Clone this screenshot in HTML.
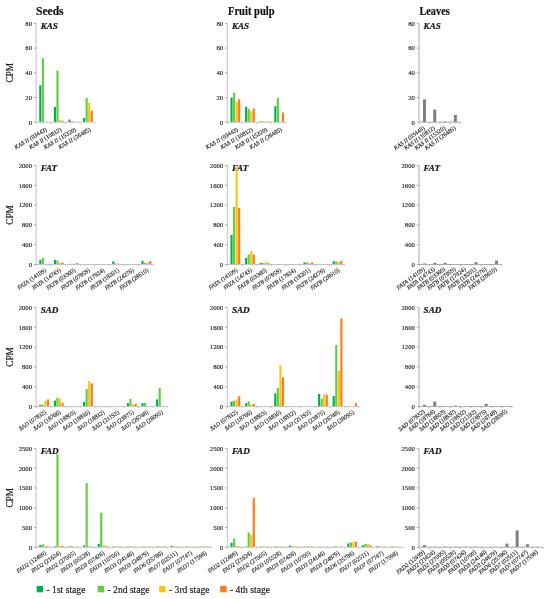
<!DOCTYPE html>
<html lang="en"><head><meta charset="utf-8"><title>CPM expression of KAS, FAT, SAD and FAD genes</title>
<style>html,body{margin:0;padding:0;background:#fff}body{width:550px;height:599px;overflow:hidden}svg{display:block;filter:blur(.3px)}text{stroke:#222;stroke-width:.2px;stroke-linejoin:round}text.c{stroke-width:.14px;fill:#222}text.t{stroke-width:.14px}</style></head>
<body>
<svg width="550" height="599" viewBox="0 0 550 599" font-family="'Liberation Serif', serif" fill="#222">
<rect width="550" height="599" fill="#fff"/>
<text x="36" y="15.2" font-size="11.6" font-weight="bold" fill="#111" textLength="27.6" lengthAdjust="spacingAndGlyphs">Seeds</text>
<text x="228" y="15.2" font-size="11.6" font-weight="bold" fill="#111" textLength="46.6" lengthAdjust="spacingAndGlyphs">Fruit pulp</text>
<text x="419.4" y="15.2" font-size="11.6" font-weight="bold" fill="#111" textLength="30.4" lengthAdjust="spacingAndGlyphs">Leaves</text>
<text transform="translate(13.4 72.8) rotate(-90)" text-anchor="middle" font-size="9.3">CPM</text>
<g><text x="40.7" y="29.1" font-size="9.1" font-weight="bold" font-style="italic" fill="#111">KAS</text><rect x="39.25" y="85.40" width="2.15" height="36.80" fill="#00b050"/><rect x="41.80" y="58.20" width="2.15" height="64.00" fill="#5fcf3a"/><rect x="53.85" y="107.00" width="2.15" height="15.20" fill="#00b050"/><rect x="56.40" y="70.60" width="2.15" height="51.60" fill="#5fcf3a"/><rect x="58.95" y="120.20" width="2.15" height="2.00" fill="#ffc20e"/><rect x="61.50" y="120.60" width="2.15" height="1.60" fill="#ff7a1a"/><rect x="68.45" y="119.60" width="2.15" height="2.60" fill="#00b050"/><rect x="71.00" y="121.35" width="2.15" height="0.85" fill="#5fcf3a"/><rect x="83.05" y="118.00" width="2.15" height="4.20" fill="#00b050"/><rect x="85.60" y="98.00" width="2.15" height="24.20" fill="#5fcf3a"/><rect x="88.15" y="103.00" width="2.15" height="19.20" fill="#ffc20e"/><rect x="90.70" y="110.60" width="2.15" height="11.60" fill="#ff7a1a"/><text x="32.0" y="124.5" text-anchor="end" font-size="6.7" class="t">0</text><text x="32.0" y="99.8" text-anchor="end" font-size="6.7" class="t">20</text><text x="32.0" y="75.1" text-anchor="end" font-size="6.7" class="t">40</text><text x="32.0" y="50.4" text-anchor="end" font-size="6.7" class="t">60</text><text x="32.0" y="25.7" text-anchor="end" font-size="6.7" class="t">80</text><path d="M36.10 23.40V122.20H94.80M36.40 122.20v1.6M51.00 122.20v1.6M65.60 122.20v1.6M80.20 122.20v1.6M94.80 122.20v1.6" fill="none" stroke="#c2c2c2" stroke-width="1"/><path d="M33.80 122.20H36.10M33.80 97.50H36.10M33.80 72.80H36.10M33.80 48.10H36.10M33.80 23.40H36.10" fill="none" stroke="#8c8c8c" stroke-width="0.7"/><text transform="translate(47.3 130.6) rotate(-31)" text-anchor="end" font-size="6" class="c"><tspan font-style="italic">KAS II</tspan> (03443)</text><text transform="translate(61.9 130.6) rotate(-31)" text-anchor="end" font-size="6" class="c"><tspan font-style="italic">KAS II</tspan> (10812)</text><text transform="translate(76.5 130.6) rotate(-31)" text-anchor="end" font-size="6" class="c"><tspan font-style="italic">KAS II</tspan> (15320)</text><text transform="translate(91.1 130.6) rotate(-31)" text-anchor="end" font-size="6" class="c"><tspan font-style="italic">KAS II</tspan> (26485)</text></g>
<g><text x="231.9" y="29.1" font-size="9.1" font-weight="bold" font-style="italic" fill="#111">KAS</text><rect x="230.45" y="97.60" width="2.15" height="24.60" fill="#00b050"/><rect x="233.00" y="92.80" width="2.15" height="29.40" fill="#5fcf3a"/><rect x="235.55" y="101.60" width="2.15" height="20.60" fill="#ffc20e"/><rect x="238.10" y="99.20" width="2.15" height="23.00" fill="#ff7a1a"/><rect x="245.05" y="106.80" width="2.15" height="15.40" fill="#00b050"/><rect x="247.60" y="109.00" width="2.15" height="13.20" fill="#5fcf3a"/><rect x="250.15" y="111.00" width="2.15" height="11.20" fill="#ffc20e"/><rect x="252.70" y="108.60" width="2.15" height="13.60" fill="#ff7a1a"/><rect x="259.65" y="121.55" width="2.15" height="0.65" fill="#00b050"/><rect x="262.20" y="121.55" width="2.15" height="0.65" fill="#5fcf3a"/><rect x="264.75" y="121.65" width="2.15" height="0.55" fill="#ffc20e"/><rect x="267.30" y="121.65" width="2.15" height="0.55" fill="#ff7a1a"/><rect x="274.25" y="106.20" width="2.15" height="16.00" fill="#00b050"/><rect x="276.80" y="98.00" width="2.15" height="24.20" fill="#5fcf3a"/><rect x="281.90" y="112.40" width="2.15" height="9.80" fill="#ff7a1a"/><text x="223.2" y="124.5" text-anchor="end" font-size="6.7" class="t">0</text><text x="223.2" y="99.8" text-anchor="end" font-size="6.7" class="t">20</text><text x="223.2" y="75.1" text-anchor="end" font-size="6.7" class="t">40</text><text x="223.2" y="50.4" text-anchor="end" font-size="6.7" class="t">60</text><text x="223.2" y="25.7" text-anchor="end" font-size="6.7" class="t">80</text><path d="M227.30 23.40V122.20H286.00M227.60 122.20v1.6M242.20 122.20v1.6M256.80 122.20v1.6M271.40 122.20v1.6M286.00 122.20v1.6" fill="none" stroke="#c2c2c2" stroke-width="1"/><path d="M225.00 122.20H227.30M225.00 97.50H227.30M225.00 72.80H227.30M225.00 48.10H227.30M225.00 23.40H227.30" fill="none" stroke="#8c8c8c" stroke-width="0.7"/><text transform="translate(238.5 130.6) rotate(-31)" text-anchor="end" font-size="6" class="c"><tspan font-style="italic">KAS II</tspan> (03443)</text><text transform="translate(253.1 130.6) rotate(-31)" text-anchor="end" font-size="6" class="c"><tspan font-style="italic">KAS II</tspan> (10812)</text><text transform="translate(267.7 130.6) rotate(-31)" text-anchor="end" font-size="6" class="c"><tspan font-style="italic">KAS II</tspan> (15320)</text><text transform="translate(282.3 130.6) rotate(-31)" text-anchor="end" font-size="6" class="c"><tspan font-style="italic">KAS II</tspan> (26485)</text></g>
<g><text x="423.6" y="29.1" font-size="9.1" font-weight="bold" font-style="italic" fill="#111">KAS</text><rect x="422.95" y="99.40" width="3" height="22.80" fill="#7f7f7f"/><rect x="433.25" y="109.60" width="3" height="12.60" fill="#7f7f7f"/><rect x="443.55" y="121.40" width="3" height="0.80" fill="#7f7f7f"/><rect x="453.85" y="115.00" width="3" height="7.20" fill="#7f7f7f"/><text x="414.9" y="124.5" text-anchor="end" font-size="6.7" class="t">0</text><text x="414.9" y="99.8" text-anchor="end" font-size="6.7" class="t">20</text><text x="414.9" y="75.1" text-anchor="end" font-size="6.7" class="t">40</text><text x="414.9" y="50.4" text-anchor="end" font-size="6.7" class="t">60</text><text x="414.9" y="25.7" text-anchor="end" font-size="6.7" class="t">80</text><path d="M419.00 23.40V122.20H460.50M419.30 122.20v1.6M429.60 122.20v1.6M439.90 122.20v1.6M450.20 122.20v1.6M460.50 122.20v1.6" fill="none" stroke="#ababab" stroke-width="1"/><path d="M416.70 122.20H419.00M416.70 97.50H419.00M416.70 72.80H419.00M416.70 48.10H419.00M416.70 23.40H419.00" fill="none" stroke="#8c8c8c" stroke-width="0.7"/><text transform="translate(425.1 128.8) rotate(-36)" text-anchor="end" font-size="6" class="c"><tspan font-style="italic">KAS II</tspan> (03443)</text><text transform="translate(435.4 128.8) rotate(-36)" text-anchor="end" font-size="6" class="c"><tspan font-style="italic">KAS II</tspan> (10812)</text><text transform="translate(445.8 128.8) rotate(-36)" text-anchor="end" font-size="6" class="c"><tspan font-style="italic">KAS II</tspan> (15320)</text><text transform="translate(456.1 128.8) rotate(-36)" text-anchor="end" font-size="6" class="c"><tspan font-style="italic">KAS II</tspan> (26485)</text></g>
<text transform="translate(13.4 215.0) rotate(-90)" text-anchor="middle" font-size="9.3">CPM</text>
<g><text x="40.7" y="171.2" font-size="9.1" font-weight="bold" font-style="italic" fill="#111">FAT</text><rect x="39.25" y="260.00" width="2.15" height="4.50" fill="#00b050"/><rect x="41.80" y="258.00" width="2.15" height="6.50" fill="#5fcf3a"/><rect x="44.35" y="263.85" width="2.15" height="0.65" fill="#ffc20e"/><rect x="46.90" y="263.85" width="2.15" height="0.65" fill="#ff7a1a"/><rect x="53.85" y="259.80" width="2.15" height="4.70" fill="#00b050"/><rect x="56.40" y="260.60" width="2.15" height="3.90" fill="#5fcf3a"/><rect x="58.95" y="262.80" width="2.15" height="1.70" fill="#ffc20e"/><rect x="61.50" y="262.60" width="2.15" height="1.90" fill="#ff7a1a"/><rect x="68.45" y="263.85" width="2.15" height="0.65" fill="#00b050"/><rect x="71.00" y="263.85" width="2.15" height="0.65" fill="#5fcf3a"/><rect x="73.55" y="263.65" width="2.15" height="0.85" fill="#ffc20e"/><rect x="76.10" y="263.00" width="2.15" height="1.50" fill="#ff7a1a"/><rect x="83.05" y="264.05" width="2.15" height="0.45" fill="#00b050"/><rect x="85.60" y="264.05" width="2.15" height="0.45" fill="#5fcf3a"/><rect x="88.15" y="264.05" width="2.15" height="0.45" fill="#ffc20e"/><rect x="90.70" y="264.05" width="2.15" height="0.45" fill="#ff7a1a"/><rect x="97.65" y="264.05" width="2.15" height="0.45" fill="#00b050"/><rect x="100.20" y="264.05" width="2.15" height="0.45" fill="#5fcf3a"/><rect x="102.75" y="264.05" width="2.15" height="0.45" fill="#ffc20e"/><rect x="105.30" y="264.05" width="2.15" height="0.45" fill="#ff7a1a"/><rect x="112.25" y="261.40" width="2.15" height="3.10" fill="#00b050"/><rect x="114.80" y="263.45" width="2.15" height="1.05" fill="#5fcf3a"/><rect x="117.35" y="263.45" width="2.15" height="1.05" fill="#ffc20e"/><rect x="119.90" y="263.95" width="2.15" height="0.55" fill="#ff7a1a"/><rect x="126.85" y="264.05" width="2.15" height="0.45" fill="#00b050"/><rect x="129.40" y="264.05" width="2.15" height="0.45" fill="#5fcf3a"/><rect x="131.95" y="264.05" width="2.15" height="0.45" fill="#ffc20e"/><rect x="134.50" y="264.05" width="2.15" height="0.45" fill="#ff7a1a"/><rect x="141.45" y="261.00" width="2.15" height="3.50" fill="#00b050"/><rect x="144.00" y="263.00" width="2.15" height="1.50" fill="#5fcf3a"/><rect x="146.55" y="262.40" width="2.15" height="2.10" fill="#ffc20e"/><rect x="149.10" y="261.00" width="2.15" height="3.50" fill="#ff7a1a"/><text x="32.0" y="266.8" text-anchor="end" font-size="6.7" class="t">0</text><text x="32.0" y="247.0" text-anchor="end" font-size="6.7" class="t">400</text><text x="32.0" y="227.2" text-anchor="end" font-size="6.7" class="t">800</text><text x="32.0" y="207.4" text-anchor="end" font-size="6.7" class="t">1200</text><text x="32.0" y="187.6" text-anchor="end" font-size="6.7" class="t">1600</text><text x="32.0" y="167.8" text-anchor="end" font-size="6.7" class="t">2000</text><path d="M36.10 165.50V264.50H153.20M36.40 264.50v1.6M51.00 264.50v1.6M65.60 264.50v1.6M80.20 264.50v1.6M94.80 264.50v1.6M109.40 264.50v1.6M124.00 264.50v1.6M138.60 264.50v1.6M153.20 264.50v1.6" fill="none" stroke="#c2c2c2" stroke-width="1"/><path d="M33.80 264.50H36.10M33.80 244.70H36.10M33.80 224.90H36.10M33.80 205.10H36.10M33.80 185.30H36.10M33.80 165.50H36.10" fill="none" stroke="#8c8c8c" stroke-width="0.7"/><text transform="translate(46.6 271.1) rotate(-34.5)" text-anchor="end" font-size="6" class="c"><tspan font-style="italic">FATA</tspan> (14109)</text><text transform="translate(61.2 271.1) rotate(-34.5)" text-anchor="end" font-size="6" class="c"><tspan font-style="italic">FATA</tspan> (14743)</text><text transform="translate(75.8 271.1) rotate(-34.5)" text-anchor="end" font-size="6" class="c"><tspan font-style="italic">FATB</tspan> (03360)</text><text transform="translate(90.4 271.1) rotate(-34.5)" text-anchor="end" font-size="6" class="c"><tspan font-style="italic">FATB</tspan> (07959)</text><text transform="translate(105.0 271.1) rotate(-34.5)" text-anchor="end" font-size="6" class="c"><tspan font-style="italic">FATB</tspan> (17924)</text><text transform="translate(119.6 271.1) rotate(-34.5)" text-anchor="end" font-size="6" class="c"><tspan font-style="italic">FATB</tspan> (18201)</text><text transform="translate(134.2 271.1) rotate(-34.5)" text-anchor="end" font-size="6" class="c"><tspan font-style="italic">FATB</tspan> (24276)</text><text transform="translate(148.8 271.1) rotate(-34.5)" text-anchor="end" font-size="6" class="c"><tspan font-style="italic">FATB</tspan> (28610)</text></g>
<g><text x="231.9" y="171.2" font-size="9.1" font-weight="bold" font-style="italic" fill="#111">FAT</text><rect x="230.45" y="235.00" width="2.15" height="29.50" fill="#00b050"/><rect x="233.00" y="207.00" width="2.15" height="57.50" fill="#5fcf3a"/><rect x="235.55" y="167.00" width="2.15" height="97.50" fill="#ffc20e"/><rect x="238.10" y="208.00" width="2.15" height="56.50" fill="#ff7a1a"/><rect x="245.05" y="258.00" width="2.15" height="6.50" fill="#00b050"/><rect x="247.60" y="254.40" width="2.15" height="10.10" fill="#5fcf3a"/><rect x="250.15" y="251.00" width="2.15" height="13.50" fill="#ffc20e"/><rect x="252.70" y="254.60" width="2.15" height="9.90" fill="#ff7a1a"/><rect x="259.65" y="263.00" width="2.15" height="1.50" fill="#00b050"/><rect x="262.20" y="263.00" width="2.15" height="1.50" fill="#5fcf3a"/><rect x="264.75" y="262.00" width="2.15" height="2.50" fill="#ffc20e"/><rect x="267.30" y="263.00" width="2.15" height="1.50" fill="#ff7a1a"/><rect x="274.25" y="263.95" width="2.15" height="0.55" fill="#00b050"/><rect x="276.80" y="263.95" width="2.15" height="0.55" fill="#5fcf3a"/><rect x="279.35" y="263.95" width="2.15" height="0.55" fill="#ffc20e"/><rect x="281.90" y="263.95" width="2.15" height="0.55" fill="#ff7a1a"/><rect x="288.85" y="263.95" width="2.15" height="0.55" fill="#00b050"/><rect x="291.40" y="263.95" width="2.15" height="0.55" fill="#5fcf3a"/><rect x="293.95" y="263.95" width="2.15" height="0.55" fill="#ffc20e"/><rect x="296.50" y="263.95" width="2.15" height="0.55" fill="#ff7a1a"/><rect x="303.45" y="262.40" width="2.15" height="2.10" fill="#00b050"/><rect x="306.00" y="262.40" width="2.15" height="2.10" fill="#5fcf3a"/><rect x="308.55" y="263.00" width="2.15" height="1.50" fill="#ffc20e"/><rect x="311.10" y="262.40" width="2.15" height="2.10" fill="#ff7a1a"/><rect x="318.05" y="263.95" width="2.15" height="0.55" fill="#00b050"/><rect x="320.60" y="263.95" width="2.15" height="0.55" fill="#5fcf3a"/><rect x="323.15" y="263.95" width="2.15" height="0.55" fill="#ffc20e"/><rect x="325.70" y="263.95" width="2.15" height="0.55" fill="#ff7a1a"/><rect x="332.65" y="261.20" width="2.15" height="3.30" fill="#00b050"/><rect x="335.20" y="261.60" width="2.15" height="2.90" fill="#5fcf3a"/><rect x="337.75" y="262.00" width="2.15" height="2.50" fill="#ffc20e"/><rect x="340.30" y="261.00" width="2.15" height="3.50" fill="#ff7a1a"/><text x="223.2" y="266.8" text-anchor="end" font-size="6.7" class="t">0</text><text x="223.2" y="247.0" text-anchor="end" font-size="6.7" class="t">400</text><text x="223.2" y="227.2" text-anchor="end" font-size="6.7" class="t">800</text><text x="223.2" y="207.4" text-anchor="end" font-size="6.7" class="t">1200</text><text x="223.2" y="187.6" text-anchor="end" font-size="6.7" class="t">1600</text><text x="223.2" y="167.8" text-anchor="end" font-size="6.7" class="t">2000</text><path d="M227.30 165.50V264.50H344.40M227.60 264.50v1.6M242.20 264.50v1.6M256.80 264.50v1.6M271.40 264.50v1.6M286.00 264.50v1.6M300.60 264.50v1.6M315.20 264.50v1.6M329.80 264.50v1.6M344.40 264.50v1.6" fill="none" stroke="#c2c2c2" stroke-width="1"/><path d="M225.00 264.50H227.30M225.00 244.70H227.30M225.00 224.90H227.30M225.00 205.10H227.30M225.00 185.30H227.30M225.00 165.50H227.30" fill="none" stroke="#8c8c8c" stroke-width="0.7"/><text transform="translate(237.8 271.1) rotate(-34.5)" text-anchor="end" font-size="6" class="c"><tspan font-style="italic">FATA</tspan> (14109)</text><text transform="translate(252.4 271.1) rotate(-34.5)" text-anchor="end" font-size="6" class="c"><tspan font-style="italic">FATA</tspan> (14743)</text><text transform="translate(267.0 271.1) rotate(-34.5)" text-anchor="end" font-size="6" class="c"><tspan font-style="italic">FATB</tspan> (03360)</text><text transform="translate(281.6 271.1) rotate(-34.5)" text-anchor="end" font-size="6" class="c"><tspan font-style="italic">FATB</tspan> (07959)</text><text transform="translate(296.2 271.1) rotate(-34.5)" text-anchor="end" font-size="6" class="c"><tspan font-style="italic">FATB</tspan> (17924)</text><text transform="translate(310.8 271.1) rotate(-34.5)" text-anchor="end" font-size="6" class="c"><tspan font-style="italic">FATB</tspan> (18201)</text><text transform="translate(325.4 271.1) rotate(-34.5)" text-anchor="end" font-size="6" class="c"><tspan font-style="italic">FATB</tspan> (24276)</text><text transform="translate(340.0 271.1) rotate(-34.5)" text-anchor="end" font-size="6" class="c"><tspan font-style="italic">FATB</tspan> (28610)</text></g>
<g><text x="423.6" y="171.2" font-size="9.1" font-weight="bold" font-style="italic" fill="#111">FAT</text><rect x="422.95" y="263.50" width="3" height="1.00" fill="#7f7f7f"/><rect x="433.25" y="262.80" width="3" height="1.70" fill="#7f7f7f"/><rect x="443.55" y="262.80" width="3" height="1.70" fill="#7f7f7f"/><rect x="453.85" y="264.10" width="3" height="0.40" fill="#7f7f7f"/><rect x="464.15" y="264.10" width="3" height="0.40" fill="#7f7f7f"/><rect x="474.45" y="262.20" width="3" height="2.30" fill="#7f7f7f"/><rect x="495.05" y="260.60" width="3" height="3.90" fill="#7f7f7f"/><text x="414.9" y="266.8" text-anchor="end" font-size="6.7" class="t">0</text><text x="414.9" y="247.0" text-anchor="end" font-size="6.7" class="t">400</text><text x="414.9" y="227.2" text-anchor="end" font-size="6.7" class="t">800</text><text x="414.9" y="207.4" text-anchor="end" font-size="6.7" class="t">1200</text><text x="414.9" y="187.6" text-anchor="end" font-size="6.7" class="t">1600</text><text x="414.9" y="167.8" text-anchor="end" font-size="6.7" class="t">2000</text><path d="M419.00 165.50V264.50H501.70M419.30 264.50v1.6M429.60 264.50v1.6M439.90 264.50v1.6M450.20 264.50v1.6M460.50 264.50v1.6M470.80 264.50v1.6M481.10 264.50v1.6M491.40 264.50v1.6M501.70 264.50v1.6" fill="none" stroke="#ababab" stroke-width="1"/><path d="M416.70 264.50H419.00M416.70 244.70H419.00M416.70 224.90H419.00M416.70 205.10H419.00M416.70 185.30H419.00M416.70 165.50H419.00" fill="none" stroke="#8c8c8c" stroke-width="0.7"/><text transform="translate(425.1 269.9) rotate(-37)" text-anchor="end" font-size="6" class="c"><tspan font-style="italic">FATA</tspan> (14109)</text><text transform="translate(435.4 269.9) rotate(-37)" text-anchor="end" font-size="6" class="c"><tspan font-style="italic">FATA</tspan> (14743)</text><text transform="translate(445.7 269.9) rotate(-37)" text-anchor="end" font-size="6" class="c"><tspan font-style="italic">FATB</tspan> (03360)</text><text transform="translate(456.0 269.9) rotate(-37)" text-anchor="end" font-size="6" class="c"><tspan font-style="italic">FATB</tspan> (07959)</text><text transform="translate(466.3 269.9) rotate(-37)" text-anchor="end" font-size="6" class="c"><tspan font-style="italic">FATB</tspan> (17924)</text><text transform="translate(476.6 269.9) rotate(-37)" text-anchor="end" font-size="6" class="c"><tspan font-style="italic">FATB</tspan> (18201)</text><text transform="translate(486.9 269.9) rotate(-37)" text-anchor="end" font-size="6" class="c"><tspan font-style="italic">FATB</tspan> (24276)</text><text transform="translate(497.2 269.9) rotate(-37)" text-anchor="end" font-size="6" class="c"><tspan font-style="italic">FATB</tspan> (28610)</text></g>
<text transform="translate(13.4 357.0) rotate(-90)" text-anchor="middle" font-size="9.3">CPM</text>
<g><text x="40.7" y="313.1" font-size="9.1" font-weight="bold" font-style="italic" fill="#111">SAD</text><rect x="39.25" y="404.80" width="2.15" height="1.80" fill="#00b050"/><rect x="41.80" y="404.80" width="2.15" height="1.80" fill="#5fcf3a"/><rect x="44.35" y="401.00" width="2.15" height="5.60" fill="#ffc20e"/><rect x="46.90" y="399.40" width="2.15" height="7.20" fill="#ff7a1a"/><rect x="53.85" y="400.60" width="2.15" height="6.00" fill="#00b050"/><rect x="56.40" y="397.80" width="2.15" height="8.80" fill="#5fcf3a"/><rect x="58.95" y="398.80" width="2.15" height="7.80" fill="#ffc20e"/><rect x="61.50" y="402.80" width="2.15" height="3.80" fill="#ff7a1a"/><rect x="68.45" y="406.05" width="2.15" height="0.55" fill="#00b050"/><rect x="71.00" y="406.15" width="2.15" height="0.45" fill="#5fcf3a"/><rect x="73.55" y="406.15" width="2.15" height="0.45" fill="#ffc20e"/><rect x="76.10" y="406.15" width="2.15" height="0.45" fill="#ff7a1a"/><rect x="83.05" y="401.80" width="2.15" height="4.80" fill="#00b050"/><rect x="85.60" y="389.00" width="2.15" height="17.60" fill="#5fcf3a"/><rect x="88.15" y="381.00" width="2.15" height="25.60" fill="#ffc20e"/><rect x="90.70" y="383.40" width="2.15" height="23.20" fill="#ff7a1a"/><rect x="97.65" y="406.05" width="2.15" height="0.55" fill="#00b050"/><rect x="100.20" y="406.05" width="2.15" height="0.55" fill="#5fcf3a"/><rect x="102.75" y="405.95" width="2.15" height="0.65" fill="#ffc20e"/><rect x="105.30" y="405.95" width="2.15" height="0.65" fill="#ff7a1a"/><rect x="126.85" y="403.20" width="2.15" height="3.40" fill="#00b050"/><rect x="129.40" y="398.80" width="2.15" height="7.80" fill="#5fcf3a"/><rect x="131.95" y="404.40" width="2.15" height="2.20" fill="#ffc20e"/><rect x="134.50" y="403.80" width="2.15" height="2.80" fill="#ff7a1a"/><rect x="141.45" y="403.20" width="2.15" height="3.40" fill="#00b050"/><rect x="144.00" y="402.80" width="2.15" height="3.80" fill="#5fcf3a"/><rect x="146.55" y="406.05" width="2.15" height="0.55" fill="#ffc20e"/><rect x="149.10" y="406.05" width="2.15" height="0.55" fill="#ff7a1a"/><rect x="156.05" y="399.40" width="2.15" height="7.20" fill="#00b050"/><rect x="158.60" y="388.00" width="2.15" height="18.60" fill="#5fcf3a"/><rect x="163.70" y="405.95" width="2.15" height="0.65" fill="#ff7a1a"/><text x="32.0" y="408.9" text-anchor="end" font-size="6.7" class="t">0</text><text x="32.0" y="389.1" text-anchor="end" font-size="6.7" class="t">400</text><text x="32.0" y="369.2" text-anchor="end" font-size="6.7" class="t">800</text><text x="32.0" y="349.4" text-anchor="end" font-size="6.7" class="t">1200</text><text x="32.0" y="329.5" text-anchor="end" font-size="6.7" class="t">1600</text><text x="32.0" y="309.7" text-anchor="end" font-size="6.7" class="t">2000</text><path d="M36.10 307.40V406.60H167.80M36.40 406.60v1.6M51.00 406.60v1.6M65.60 406.60v1.6M80.20 406.60v1.6M94.80 406.60v1.6M109.40 406.60v1.6M124.00 406.60v1.6M138.60 406.60v1.6M153.20 406.60v1.6M167.80 406.60v1.6" fill="none" stroke="#c2c2c2" stroke-width="1"/><path d="M33.80 406.60H36.10M33.80 386.76H36.10M33.80 366.92H36.10M33.80 347.08H36.10M33.80 327.24H36.10M33.80 307.40H36.10" fill="none" stroke="#8c8c8c" stroke-width="0.7"/><text transform="translate(46.6 413.2) rotate(-34)" text-anchor="end" font-size="6" class="c"><tspan font-style="italic">SAD</tspan> (07832)</text><text transform="translate(61.2 413.2) rotate(-34)" text-anchor="end" font-size="6" class="c"><tspan font-style="italic">SAD</tspan> (18766)</text><text transform="translate(75.8 413.2) rotate(-34)" text-anchor="end" font-size="6" class="c"><tspan font-style="italic">SAD</tspan> (18803)</text><text transform="translate(90.4 413.2) rotate(-34)" text-anchor="end" font-size="6" class="c"><tspan font-style="italic">SAD</tspan> (18830)</text><text transform="translate(105.0 413.2) rotate(-34)" text-anchor="end" font-size="6" class="c"><tspan font-style="italic">SAD</tspan> (18832)</text><text transform="translate(119.6 413.2) rotate(-34)" text-anchor="end" font-size="6" class="c"><tspan font-style="italic">SAD</tspan> (21192)</text><text transform="translate(134.2 413.2) rotate(-34)" text-anchor="end" font-size="6" class="c"><tspan font-style="italic">SAD</tspan> (23875)</text><text transform="translate(148.8 413.2) rotate(-34)" text-anchor="end" font-size="6" class="c"><tspan font-style="italic">SAD</tspan> (26748)</text><text transform="translate(163.4 413.2) rotate(-34)" text-anchor="end" font-size="6" class="c"><tspan font-style="italic">SAD</tspan> (28095)</text></g>
<g><text x="231.9" y="313.1" font-size="9.1" font-weight="bold" font-style="italic" fill="#111">SAD</text><rect x="230.45" y="401.60" width="2.15" height="5.00" fill="#00b050"/><rect x="233.00" y="400.80" width="2.15" height="5.80" fill="#5fcf3a"/><rect x="235.55" y="399.40" width="2.15" height="7.20" fill="#ffc20e"/><rect x="238.10" y="396.20" width="2.15" height="10.40" fill="#ff7a1a"/><rect x="245.05" y="403.20" width="2.15" height="3.40" fill="#00b050"/><rect x="247.60" y="401.20" width="2.15" height="5.40" fill="#5fcf3a"/><rect x="250.15" y="404.40" width="2.15" height="2.20" fill="#ffc20e"/><rect x="252.70" y="404.00" width="2.15" height="2.60" fill="#ff7a1a"/><rect x="259.65" y="406.15" width="2.15" height="0.45" fill="#00b050"/><rect x="262.20" y="406.15" width="2.15" height="0.45" fill="#5fcf3a"/><rect x="264.75" y="406.15" width="2.15" height="0.45" fill="#ffc20e"/><rect x="267.30" y="406.15" width="2.15" height="0.45" fill="#ff7a1a"/><rect x="274.25" y="393.40" width="2.15" height="13.20" fill="#00b050"/><rect x="276.80" y="388.00" width="2.15" height="18.60" fill="#5fcf3a"/><rect x="279.35" y="365.40" width="2.15" height="41.20" fill="#ffc20e"/><rect x="281.90" y="377.40" width="2.15" height="29.20" fill="#ff7a1a"/><rect x="288.85" y="406.05" width="2.15" height="0.55" fill="#00b050"/><rect x="291.40" y="406.05" width="2.15" height="0.55" fill="#5fcf3a"/><rect x="293.95" y="406.05" width="2.15" height="0.55" fill="#ffc20e"/><rect x="296.50" y="406.05" width="2.15" height="0.55" fill="#ff7a1a"/><rect x="303.45" y="406.15" width="2.15" height="0.45" fill="#00b050"/><rect x="306.00" y="406.15" width="2.15" height="0.45" fill="#5fcf3a"/><rect x="308.55" y="406.15" width="2.15" height="0.45" fill="#ffc20e"/><rect x="311.10" y="406.15" width="2.15" height="0.45" fill="#ff7a1a"/><rect x="318.05" y="394.00" width="2.15" height="12.60" fill="#00b050"/><rect x="320.60" y="398.60" width="2.15" height="8.00" fill="#5fcf3a"/><rect x="323.15" y="394.20" width="2.15" height="12.40" fill="#ffc20e"/><rect x="325.70" y="394.80" width="2.15" height="11.80" fill="#ff7a1a"/><rect x="332.65" y="396.00" width="2.15" height="10.60" fill="#00b050"/><rect x="335.20" y="345.00" width="2.15" height="61.60" fill="#5fcf3a"/><rect x="337.75" y="371.00" width="2.15" height="35.60" fill="#ffc20e"/><rect x="340.30" y="318.40" width="2.15" height="88.20" fill="#ff7a1a"/><rect x="347.25" y="406.15" width="2.15" height="0.45" fill="#00b050"/><rect x="349.80" y="406.15" width="2.15" height="0.45" fill="#5fcf3a"/><rect x="352.35" y="406.15" width="2.15" height="0.45" fill="#ffc20e"/><rect x="354.90" y="403.20" width="2.15" height="3.40" fill="#ff7a1a"/><text x="223.2" y="408.9" text-anchor="end" font-size="6.7" class="t">0</text><text x="223.2" y="389.1" text-anchor="end" font-size="6.7" class="t">400</text><text x="223.2" y="369.2" text-anchor="end" font-size="6.7" class="t">800</text><text x="223.2" y="349.4" text-anchor="end" font-size="6.7" class="t">1200</text><text x="223.2" y="329.5" text-anchor="end" font-size="6.7" class="t">1600</text><text x="223.2" y="309.7" text-anchor="end" font-size="6.7" class="t">2000</text><path d="M227.30 307.40V406.60H359.00M227.60 406.60v1.6M242.20 406.60v1.6M256.80 406.60v1.6M271.40 406.60v1.6M286.00 406.60v1.6M300.60 406.60v1.6M315.20 406.60v1.6M329.80 406.60v1.6M344.40 406.60v1.6M359.00 406.60v1.6" fill="none" stroke="#c2c2c2" stroke-width="1"/><path d="M225.00 406.60H227.30M225.00 386.76H227.30M225.00 366.92H227.30M225.00 347.08H227.30M225.00 327.24H227.30M225.00 307.40H227.30" fill="none" stroke="#8c8c8c" stroke-width="0.7"/><text transform="translate(237.8 413.2) rotate(-34)" text-anchor="end" font-size="6" class="c"><tspan font-style="italic">SAD</tspan> (07832)</text><text transform="translate(252.4 413.2) rotate(-34)" text-anchor="end" font-size="6" class="c"><tspan font-style="italic">SAD</tspan> (18766)</text><text transform="translate(267.0 413.2) rotate(-34)" text-anchor="end" font-size="6" class="c"><tspan font-style="italic">SAD</tspan> (18803)</text><text transform="translate(281.6 413.2) rotate(-34)" text-anchor="end" font-size="6" class="c"><tspan font-style="italic">SAD</tspan> (18830)</text><text transform="translate(296.2 413.2) rotate(-34)" text-anchor="end" font-size="6" class="c"><tspan font-style="italic">SAD</tspan> (18832)</text><text transform="translate(310.8 413.2) rotate(-34)" text-anchor="end" font-size="6" class="c"><tspan font-style="italic">SAD</tspan> (21192)</text><text transform="translate(325.4 413.2) rotate(-34)" text-anchor="end" font-size="6" class="c"><tspan font-style="italic">SAD</tspan> (23875)</text><text transform="translate(340.0 413.2) rotate(-34)" text-anchor="end" font-size="6" class="c"><tspan font-style="italic">SAD</tspan> (26748)</text><text transform="translate(354.6 413.2) rotate(-34)" text-anchor="end" font-size="6" class="c"><tspan font-style="italic">SAD</tspan> (28095)</text></g>
<g><text x="423.6" y="313.1" font-size="9.1" font-weight="bold" font-style="italic" fill="#111">SAD</text><rect x="422.95" y="404.80" width="3" height="1.80" fill="#7f7f7f"/><rect x="433.25" y="401.60" width="3" height="5.00" fill="#7f7f7f"/><rect x="443.55" y="406.20" width="3" height="0.40" fill="#7f7f7f"/><rect x="453.85" y="405.60" width="3" height="1.00" fill="#7f7f7f"/><rect x="484.75" y="403.80" width="3" height="2.80" fill="#7f7f7f"/><rect x="495.05" y="406.10" width="3" height="0.50" fill="#7f7f7f"/><text x="414.9" y="408.9" text-anchor="end" font-size="6.7" class="t">0</text><text x="414.9" y="389.1" text-anchor="end" font-size="6.7" class="t">400</text><text x="414.9" y="369.2" text-anchor="end" font-size="6.7" class="t">800</text><text x="414.9" y="349.4" text-anchor="end" font-size="6.7" class="t">1200</text><text x="414.9" y="329.5" text-anchor="end" font-size="6.7" class="t">1600</text><text x="414.9" y="309.7" text-anchor="end" font-size="6.7" class="t">2000</text><path d="M419.00 307.40V406.60H512.00M419.30 406.60v1.6M429.60 406.60v1.6M439.90 406.60v1.6M450.20 406.60v1.6M460.50 406.60v1.6M470.80 406.60v1.6M481.10 406.60v1.6M491.40 406.60v1.6M501.70 406.60v1.6M512.00 406.60v1.6" fill="none" stroke="#ababab" stroke-width="1"/><path d="M416.70 406.60H419.00M416.70 386.76H419.00M416.70 366.92H419.00M416.70 347.08H419.00M416.70 327.24H419.00M416.70 307.40H419.00" fill="none" stroke="#8c8c8c" stroke-width="0.7"/><text transform="translate(425.1 412.2) rotate(-38)" text-anchor="end" font-size="6" class="c"><tspan font-style="italic">SAD</tspan> (07832)</text><text transform="translate(435.4 412.2) rotate(-38)" text-anchor="end" font-size="6" class="c"><tspan font-style="italic">SAD</tspan> (18766)</text><text transform="translate(445.7 412.2) rotate(-38)" text-anchor="end" font-size="6" class="c"><tspan font-style="italic">SAD</tspan> (18803)</text><text transform="translate(456.0 412.2) rotate(-38)" text-anchor="end" font-size="6" class="c"><tspan font-style="italic">SAD</tspan> (18830)</text><text transform="translate(466.3 412.2) rotate(-38)" text-anchor="end" font-size="6" class="c"><tspan font-style="italic">SAD</tspan> (18832)</text><text transform="translate(476.6 412.2) rotate(-38)" text-anchor="end" font-size="6" class="c"><tspan font-style="italic">SAD</tspan> (21192)</text><text transform="translate(486.9 412.2) rotate(-38)" text-anchor="end" font-size="6" class="c"><tspan font-style="italic">SAD</tspan> (23875)</text><text transform="translate(497.2 412.2) rotate(-38)" text-anchor="end" font-size="6" class="c"><tspan font-style="italic">SAD</tspan> (26748)</text><text transform="translate(507.5 412.2) rotate(-38)" text-anchor="end" font-size="6" class="c"><tspan font-style="italic">SAD</tspan> (28095)</text></g>
<text transform="translate(13.4 497.8) rotate(-90)" text-anchor="middle" font-size="9.3">CPM</text>
<g><text x="40.7" y="454.1" font-size="9.1" font-weight="bold" font-style="italic" fill="#111">FAD</text><rect x="39.25" y="545.00" width="2.15" height="2.20" fill="#00b050"/><rect x="41.80" y="544.20" width="2.15" height="3.00" fill="#5fcf3a"/><rect x="44.35" y="545.80" width="2.15" height="1.40" fill="#ffc20e"/><rect x="46.90" y="546.35" width="2.15" height="0.85" fill="#ff7a1a"/><rect x="53.85" y="546.35" width="2.15" height="0.85" fill="#00b050"/><rect x="56.40" y="454.20" width="2.15" height="93.00" fill="#5fcf3a"/><rect x="58.95" y="545.60" width="2.15" height="1.60" fill="#ffc20e"/><rect x="61.50" y="545.80" width="2.15" height="1.40" fill="#ff7a1a"/><rect x="68.45" y="546.35" width="2.15" height="0.85" fill="#00b050"/><rect x="71.00" y="546.55" width="2.15" height="0.65" fill="#5fcf3a"/><rect x="73.55" y="546.65" width="2.15" height="0.55" fill="#ffc20e"/><rect x="76.10" y="546.65" width="2.15" height="0.55" fill="#ff7a1a"/><rect x="83.05" y="545.40" width="2.15" height="1.80" fill="#00b050"/><rect x="85.60" y="483.20" width="2.15" height="64.00" fill="#5fcf3a"/><rect x="88.15" y="546.45" width="2.15" height="0.75" fill="#ffc20e"/><rect x="90.70" y="546.55" width="2.15" height="0.65" fill="#ff7a1a"/><rect x="97.65" y="543.80" width="2.15" height="3.40" fill="#00b050"/><rect x="100.20" y="512.60" width="2.15" height="34.60" fill="#5fcf3a"/><rect x="102.75" y="545.20" width="2.15" height="2.00" fill="#ffc20e"/><rect x="105.30" y="546.15" width="2.15" height="1.05" fill="#ff7a1a"/><rect x="112.25" y="546.55" width="2.15" height="0.65" fill="#00b050"/><rect x="114.80" y="546.65" width="2.15" height="0.55" fill="#5fcf3a"/><rect x="117.35" y="546.65" width="2.15" height="0.55" fill="#ffc20e"/><rect x="119.90" y="546.65" width="2.15" height="0.55" fill="#ff7a1a"/><rect x="126.85" y="546.65" width="2.15" height="0.55" fill="#00b050"/><rect x="129.40" y="546.65" width="2.15" height="0.55" fill="#5fcf3a"/><rect x="131.95" y="546.65" width="2.15" height="0.55" fill="#ffc20e"/><rect x="134.50" y="546.65" width="2.15" height="0.55" fill="#ff7a1a"/><rect x="141.45" y="546.65" width="2.15" height="0.55" fill="#00b050"/><rect x="144.00" y="546.65" width="2.15" height="0.55" fill="#5fcf3a"/><rect x="146.55" y="546.65" width="2.15" height="0.55" fill="#ffc20e"/><rect x="149.10" y="546.65" width="2.15" height="0.55" fill="#ff7a1a"/><rect x="156.05" y="546.45" width="2.15" height="0.75" fill="#00b050"/><rect x="158.60" y="546.45" width="2.15" height="0.75" fill="#5fcf3a"/><rect x="161.15" y="546.55" width="2.15" height="0.65" fill="#ffc20e"/><rect x="163.70" y="546.55" width="2.15" height="0.65" fill="#ff7a1a"/><rect x="170.65" y="545.80" width="2.15" height="1.40" fill="#00b050"/><rect x="173.20" y="546.55" width="2.15" height="0.65" fill="#5fcf3a"/><rect x="175.75" y="546.65" width="2.15" height="0.55" fill="#ffc20e"/><rect x="178.30" y="546.65" width="2.15" height="0.55" fill="#ff7a1a"/><rect x="185.25" y="546.65" width="2.15" height="0.55" fill="#00b050"/><rect x="187.80" y="546.65" width="2.15" height="0.55" fill="#5fcf3a"/><rect x="190.35" y="546.65" width="2.15" height="0.55" fill="#ffc20e"/><rect x="192.90" y="546.65" width="2.15" height="0.55" fill="#ff7a1a"/><rect x="199.85" y="546.65" width="2.15" height="0.55" fill="#00b050"/><rect x="202.40" y="546.65" width="2.15" height="0.55" fill="#5fcf3a"/><rect x="204.95" y="546.65" width="2.15" height="0.55" fill="#ffc20e"/><rect x="207.50" y="546.65" width="2.15" height="0.55" fill="#ff7a1a"/><text x="32.0" y="549.5" text-anchor="end" font-size="6.7" class="t">0</text><text x="32.0" y="529.7" text-anchor="end" font-size="6.7" class="t">500</text><text x="32.0" y="510.0" text-anchor="end" font-size="6.7" class="t">1000</text><text x="32.0" y="490.2" text-anchor="end" font-size="6.7" class="t">1500</text><text x="32.0" y="470.5" text-anchor="end" font-size="6.7" class="t">2000</text><text x="32.0" y="450.7" text-anchor="end" font-size="6.7" class="t">2500</text><path d="M36.10 448.40V547.20H211.60M36.40 547.20v1.6M51.00 547.20v1.6M65.60 547.20v1.6M80.20 547.20v1.6M94.80 547.20v1.6M109.40 547.20v1.6M124.00 547.20v1.6M138.60 547.20v1.6M153.20 547.20v1.6M167.80 547.20v1.6M182.40 547.20v1.6M197.00 547.20v1.6M211.60 547.20v1.6" fill="none" stroke="#c2c2c2" stroke-width="1"/><path d="M33.80 547.20H36.10M33.80 527.44H36.10M33.80 507.68H36.10M33.80 487.92H36.10M33.80 468.16H36.10M33.80 448.40H36.10" fill="none" stroke="#8c8c8c" stroke-width="0.7"/><text transform="translate(46.6 554.0) rotate(-34)" text-anchor="end" font-size="6" class="c"><tspan font-style="italic">FAD2</tspan> (12499)</text><text transform="translate(61.2 554.0) rotate(-34)" text-anchor="end" font-size="6" class="c"><tspan font-style="italic">FAD2</tspan> (21624)</text><text transform="translate(75.8 554.0) rotate(-34)" text-anchor="end" font-size="6" class="c"><tspan font-style="italic">FAD2</tspan> (27005)</text><text transform="translate(90.4 554.0) rotate(-34)" text-anchor="end" font-size="6" class="c"><tspan font-style="italic">FAD3</tspan> (05528)</text><text transform="translate(105.0 554.0) rotate(-34)" text-anchor="end" font-size="6" class="c"><tspan font-style="italic">FAD3</tspan> (07426)</text><text transform="translate(119.6 554.0) rotate(-34)" text-anchor="end" font-size="6" class="c"><tspan font-style="italic">FAD3</tspan> (10700)</text><text transform="translate(134.2 554.0) rotate(-34)" text-anchor="end" font-size="6" class="c"><tspan font-style="italic">FAD3</tspan> (24146)</text><text transform="translate(148.8 554.0) rotate(-34)" text-anchor="end" font-size="6" class="c"><tspan font-style="italic">FAD3</tspan> (24879)</text><text transform="translate(163.4 554.0) rotate(-34)" text-anchor="end" font-size="6" class="c"><tspan font-style="italic">FAD6</tspan> (25786)</text><text transform="translate(178.0 554.0) rotate(-34)" text-anchor="end" font-size="6" class="c"><tspan font-style="italic">FAD7</tspan> (02511)</text><text transform="translate(192.6 554.0) rotate(-34)" text-anchor="end" font-size="6" class="c"><tspan font-style="italic">FAD7</tspan> (07747)</text><text transform="translate(207.2 554.0) rotate(-34)" text-anchor="end" font-size="6" class="c"><tspan font-style="italic">FAD7</tspan> (17598)</text></g>
<g><text x="231.9" y="454.1" font-size="9.1" font-weight="bold" font-style="italic" fill="#111">FAD</text><rect x="230.45" y="542.80" width="2.15" height="4.40" fill="#00b050"/><rect x="233.00" y="538.60" width="2.15" height="8.60" fill="#5fcf3a"/><rect x="235.55" y="545.80" width="2.15" height="1.40" fill="#ffc20e"/><rect x="238.10" y="546.55" width="2.15" height="0.65" fill="#ff7a1a"/><rect x="245.05" y="546.55" width="2.15" height="0.65" fill="#00b050"/><rect x="247.60" y="532.60" width="2.15" height="14.60" fill="#5fcf3a"/><rect x="250.15" y="534.80" width="2.15" height="12.40" fill="#ffc20e"/><rect x="252.70" y="498.00" width="2.15" height="49.20" fill="#ff7a1a"/><rect x="259.65" y="546.65" width="2.15" height="0.55" fill="#00b050"/><rect x="262.20" y="546.65" width="2.15" height="0.55" fill="#5fcf3a"/><rect x="264.75" y="546.65" width="2.15" height="0.55" fill="#ffc20e"/><rect x="267.30" y="546.65" width="2.15" height="0.55" fill="#ff7a1a"/><rect x="274.25" y="546.65" width="2.15" height="0.55" fill="#00b050"/><rect x="276.80" y="546.65" width="2.15" height="0.55" fill="#5fcf3a"/><rect x="279.35" y="546.65" width="2.15" height="0.55" fill="#ffc20e"/><rect x="281.90" y="546.65" width="2.15" height="0.55" fill="#ff7a1a"/><rect x="288.85" y="545.60" width="2.15" height="1.60" fill="#00b050"/><rect x="291.40" y="546.55" width="2.15" height="0.65" fill="#5fcf3a"/><rect x="293.95" y="546.15" width="2.15" height="1.05" fill="#ffc20e"/><rect x="296.50" y="546.55" width="2.15" height="0.65" fill="#ff7a1a"/><rect x="303.45" y="546.65" width="2.15" height="0.55" fill="#00b050"/><rect x="306.00" y="546.65" width="2.15" height="0.55" fill="#5fcf3a"/><rect x="308.55" y="546.65" width="2.15" height="0.55" fill="#ffc20e"/><rect x="311.10" y="546.65" width="2.15" height="0.55" fill="#ff7a1a"/><rect x="318.05" y="546.75" width="2.15" height="0.45" fill="#00b050"/><rect x="320.60" y="546.75" width="2.15" height="0.45" fill="#5fcf3a"/><rect x="323.15" y="546.75" width="2.15" height="0.45" fill="#ffc20e"/><rect x="325.70" y="546.75" width="2.15" height="0.45" fill="#ff7a1a"/><rect x="332.65" y="546.65" width="2.15" height="0.55" fill="#00b050"/><rect x="335.20" y="546.65" width="2.15" height="0.55" fill="#5fcf3a"/><rect x="337.75" y="546.65" width="2.15" height="0.55" fill="#ffc20e"/><rect x="340.30" y="546.65" width="2.15" height="0.55" fill="#ff7a1a"/><rect x="347.25" y="543.40" width="2.15" height="3.80" fill="#00b050"/><rect x="349.80" y="542.40" width="2.15" height="4.80" fill="#5fcf3a"/><rect x="352.35" y="541.80" width="2.15" height="5.40" fill="#ffc20e"/><rect x="354.90" y="541.80" width="2.15" height="5.40" fill="#ff7a1a"/><rect x="361.85" y="545.20" width="2.15" height="2.00" fill="#00b050"/><rect x="364.40" y="544.00" width="2.15" height="3.20" fill="#5fcf3a"/><rect x="366.95" y="543.80" width="2.15" height="3.40" fill="#ffc20e"/><rect x="369.50" y="545.20" width="2.15" height="2.00" fill="#ff7a1a"/><rect x="376.45" y="546.15" width="2.15" height="1.05" fill="#00b050"/><rect x="379.00" y="546.55" width="2.15" height="0.65" fill="#5fcf3a"/><rect x="381.55" y="546.65" width="2.15" height="0.55" fill="#ffc20e"/><rect x="384.10" y="546.65" width="2.15" height="0.55" fill="#ff7a1a"/><rect x="391.05" y="546.65" width="2.15" height="0.55" fill="#00b050"/><rect x="393.60" y="546.65" width="2.15" height="0.55" fill="#5fcf3a"/><rect x="396.15" y="546.75" width="2.15" height="0.45" fill="#ffc20e"/><rect x="398.70" y="546.75" width="2.15" height="0.45" fill="#ff7a1a"/><text x="223.2" y="549.5" text-anchor="end" font-size="6.7" class="t">0</text><text x="223.2" y="529.7" text-anchor="end" font-size="6.7" class="t">500</text><text x="223.2" y="510.0" text-anchor="end" font-size="6.7" class="t">1000</text><text x="223.2" y="490.2" text-anchor="end" font-size="6.7" class="t">1500</text><text x="223.2" y="470.5" text-anchor="end" font-size="6.7" class="t">2000</text><text x="223.2" y="450.7" text-anchor="end" font-size="6.7" class="t">2500</text><path d="M227.30 448.40V547.20H402.80M227.60 547.20v1.6M242.20 547.20v1.6M256.80 547.20v1.6M271.40 547.20v1.6M286.00 547.20v1.6M300.60 547.20v1.6M315.20 547.20v1.6M329.80 547.20v1.6M344.40 547.20v1.6M359.00 547.20v1.6M373.60 547.20v1.6M388.20 547.20v1.6M402.80 547.20v1.6" fill="none" stroke="#c2c2c2" stroke-width="1"/><path d="M225.00 547.20H227.30M225.00 527.44H227.30M225.00 507.68H227.30M225.00 487.92H227.30M225.00 468.16H227.30M225.00 448.40H227.30" fill="none" stroke="#8c8c8c" stroke-width="0.7"/><text transform="translate(237.8 554.0) rotate(-34)" text-anchor="end" font-size="6" class="c"><tspan font-style="italic">FAD2</tspan> (12499)</text><text transform="translate(252.4 554.0) rotate(-34)" text-anchor="end" font-size="6" class="c"><tspan font-style="italic">FAD2</tspan> (21624)</text><text transform="translate(267.0 554.0) rotate(-34)" text-anchor="end" font-size="6" class="c"><tspan font-style="italic">FAD2</tspan> (27005)</text><text transform="translate(281.6 554.0) rotate(-34)" text-anchor="end" font-size="6" class="c"><tspan font-style="italic">FAD3</tspan> (05528)</text><text transform="translate(296.2 554.0) rotate(-34)" text-anchor="end" font-size="6" class="c"><tspan font-style="italic">FAD3</tspan> (07426)</text><text transform="translate(310.8 554.0) rotate(-34)" text-anchor="end" font-size="6" class="c"><tspan font-style="italic">FAD3</tspan> (10700)</text><text transform="translate(325.4 554.0) rotate(-34)" text-anchor="end" font-size="6" class="c"><tspan font-style="italic">FAD3</tspan> (24146)</text><text transform="translate(340.0 554.0) rotate(-34)" text-anchor="end" font-size="6" class="c"><tspan font-style="italic">FAD3</tspan> (24879)</text><text transform="translate(354.6 554.0) rotate(-34)" text-anchor="end" font-size="6" class="c"><tspan font-style="italic">FAD6</tspan> (25786)</text><text transform="translate(369.2 554.0) rotate(-34)" text-anchor="end" font-size="6" class="c"><tspan font-style="italic">FAD7</tspan> (02511)</text><text transform="translate(383.8 554.0) rotate(-34)" text-anchor="end" font-size="6" class="c"><tspan font-style="italic">FAD7</tspan> (07747)</text><text transform="translate(398.4 554.0) rotate(-34)" text-anchor="end" font-size="6" class="c"><tspan font-style="italic">FAD7</tspan> (17598)</text></g>
<g><text x="423.6" y="454.1" font-size="9.1" font-weight="bold" font-style="italic" fill="#111">FAD</text><rect x="422.95" y="545.00" width="3" height="2.20" fill="#7f7f7f"/><rect x="433.25" y="546.80" width="3" height="0.40" fill="#7f7f7f"/><rect x="443.55" y="546.80" width="3" height="0.40" fill="#7f7f7f"/><rect x="453.85" y="546.80" width="3" height="0.40" fill="#7f7f7f"/><rect x="464.15" y="546.80" width="3" height="0.40" fill="#7f7f7f"/><rect x="474.45" y="546.80" width="3" height="0.40" fill="#7f7f7f"/><rect x="505.35" y="543.60" width="3" height="3.60" fill="#7f7f7f"/><rect x="515.65" y="530.40" width="3" height="16.80" fill="#7f7f7f"/><rect x="525.95" y="544.20" width="3" height="3.00" fill="#7f7f7f"/><rect x="536.25" y="546.80" width="3" height="0.40" fill="#7f7f7f"/><text x="414.9" y="549.5" text-anchor="end" font-size="6.7" class="t">0</text><text x="414.9" y="529.7" text-anchor="end" font-size="6.7" class="t">500</text><text x="414.9" y="510.0" text-anchor="end" font-size="6.7" class="t">1000</text><text x="414.9" y="490.2" text-anchor="end" font-size="6.7" class="t">1500</text><text x="414.9" y="470.5" text-anchor="end" font-size="6.7" class="t">2000</text><text x="414.9" y="450.7" text-anchor="end" font-size="6.7" class="t">2500</text><path d="M419.00 448.40V547.20H542.90M419.30 547.20v1.6M429.60 547.20v1.6M439.90 547.20v1.6M450.20 547.20v1.6M460.50 547.20v1.6M470.80 547.20v1.6M481.10 547.20v1.6M491.40 547.20v1.6M501.70 547.20v1.6M512.00 547.20v1.6M522.30 547.20v1.6M532.60 547.20v1.6M542.90 547.20v1.6" fill="none" stroke="#ababab" stroke-width="1"/><path d="M416.70 547.20H419.00M416.70 527.44H419.00M416.70 507.68H419.00M416.70 487.92H419.00M416.70 468.16H419.00M416.70 448.40H419.00" fill="none" stroke="#8c8c8c" stroke-width="0.7"/><text transform="translate(425.1 552.8) rotate(-39)" text-anchor="end" font-size="6" class="c"><tspan font-style="italic">FAD2</tspan> (12499)</text><text transform="translate(435.4 552.8) rotate(-39)" text-anchor="end" font-size="6" class="c"><tspan font-style="italic">FAD2</tspan> (21624)</text><text transform="translate(445.7 552.8) rotate(-39)" text-anchor="end" font-size="6" class="c"><tspan font-style="italic">FAD2</tspan> (27005)</text><text transform="translate(456.0 552.8) rotate(-39)" text-anchor="end" font-size="6" class="c"><tspan font-style="italic">FAD3</tspan> (05528)</text><text transform="translate(466.3 552.8) rotate(-39)" text-anchor="end" font-size="6" class="c"><tspan font-style="italic">FAD3</tspan> (07426)</text><text transform="translate(476.6 552.8) rotate(-39)" text-anchor="end" font-size="6" class="c"><tspan font-style="italic">FAD3</tspan> (10700)</text><text transform="translate(486.9 552.8) rotate(-39)" text-anchor="end" font-size="6" class="c"><tspan font-style="italic">FAD3</tspan> (24146)</text><text transform="translate(497.2 552.8) rotate(-39)" text-anchor="end" font-size="6" class="c"><tspan font-style="italic">FAD3</tspan> (24879)</text><text transform="translate(507.5 552.8) rotate(-39)" text-anchor="end" font-size="6" class="c"><tspan font-style="italic">FAD6</tspan> (25786)</text><text transform="translate(517.8 552.8) rotate(-39)" text-anchor="end" font-size="6" class="c"><tspan font-style="italic">FAD7</tspan> (02511)</text><text transform="translate(528.1 552.8) rotate(-39)" text-anchor="end" font-size="6" class="c"><tspan font-style="italic">FAD7</tspan> (07747)</text><text transform="translate(538.4 552.8) rotate(-39)" text-anchor="end" font-size="6" class="c"><tspan font-style="italic">FAD7</tspan> (17598)</text></g>
<rect x="36.7" y="585.9" width="6.4" height="6.4" fill="#00b050"/>
<text x="46.5" y="592.8" font-size="9.6" style="stroke-width:.18px">- 1st stage</text>
<rect x="97.7" y="585.9" width="6.4" height="6.4" fill="#5fcf3a"/>
<text x="107.5" y="592.8" font-size="9.6" style="stroke-width:.18px">- 2nd stage</text>
<rect x="159.2" y="585.9" width="6.4" height="6.4" fill="#ffc20e"/>
<text x="169" y="592.8" font-size="9.6" style="stroke-width:.18px">- 3rd stage</text>
<rect x="220.2" y="585.9" width="6.4" height="6.4" fill="#ff7a1a"/>
<text x="230" y="592.8" font-size="9.6" style="stroke-width:.18px">- 4th stage</text>
</svg>
</body></html>
